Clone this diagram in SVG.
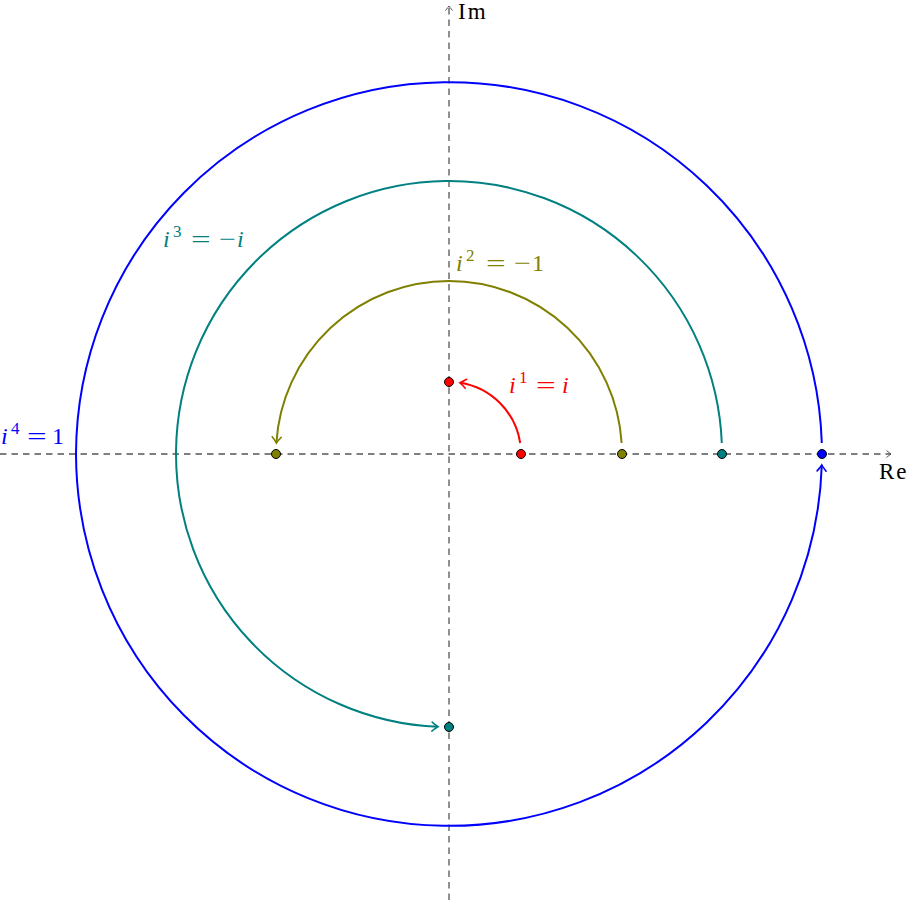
<svg xmlns="http://www.w3.org/2000/svg" width="909" height="900" viewBox="0 0 909 900">
<style>
.axis{stroke:#555;stroke-width:1.3;stroke-dasharray:6.5 5;fill:none}
.arc{fill:none;stroke-width:2}
text{font-family:"Liberation Serif",serif;font-size:24px}
.ax{font-size:23px;letter-spacing:2px}
.it{font-style:italic}
.sup{font-size:17px}
.dot{stroke:#000;stroke-width:1}
</style>
<defs>
<marker id="axarr" markerWidth="10" markerHeight="10" refX="0" refY="0" viewBox="-6 -5 8 10" orient="auto" markerUnits="userSpaceOnUse">
<path d="M-4.5,-3.5 Q-1,-0.6 0,0 Q-1,0.6 -4.5,3.5" fill="none" stroke="#555" stroke-width="1"/>
</marker>
<marker id="mr" viewBox="-8 -6 10 12" refX="0" refY="0" markerWidth="10" markerHeight="12" orient="auto" markerUnits="userSpaceOnUse"><path d="M-6,-4.5 Q-1.5,-0.8 0,0 Q-1.5,0.8 -6,4.5" fill="none" stroke="#ff0000" stroke-width="1.6" stroke-linecap="round"/></marker>
<marker id="mo" viewBox="-8 -6 10 12" refX="0" refY="0" markerWidth="10" markerHeight="12" orient="auto" markerUnits="userSpaceOnUse"><path d="M-6,-4.5 Q-1.5,-0.8 0,0 Q-1.5,0.8 -6,4.5" fill="none" stroke="#808000" stroke-width="1.6" stroke-linecap="round"/></marker>
<marker id="mt" viewBox="-8 -6 10 12" refX="0" refY="0" markerWidth="10" markerHeight="12" orient="auto" markerUnits="userSpaceOnUse"><path d="M-6,-4.5 Q-1.5,-0.8 0,0 Q-1.5,0.8 -6,4.5" fill="none" stroke="#008080" stroke-width="1.6" stroke-linecap="round"/></marker>
<marker id="mb" viewBox="-8 -6 10 12" refX="0" refY="0" markerWidth="10" markerHeight="12" orient="auto" markerUnits="userSpaceOnUse"><path d="M-6,-4.5 Q-1.5,-0.8 0,0 Q-1.5,0.8 -6,4.5" fill="none" stroke="#0000ff" stroke-width="1.6" stroke-linecap="round"/></marker>
</defs>
<rect width="909" height="900" fill="#fff"/>
<g id="axes">
<line class="axis" x1="0" y1="454" x2="891" y2="454" marker-end="url(#axarr)"/>
<line class="axis" x1="449" y1="900" x2="449" y2="6" marker-end="url(#axarr)"/>
<text class="ax" x="879" y="479">Re</text>
<text class="ax" x="458" y="19">Im</text>
</g>
<g id="connectors">
<path class="arc" stroke="#ff0000" d="M520.2,443 A72,72 0 0 0 460,382.8" marker-end="url(#mr)"/>
<path class="arc" stroke="#808000" d="M621.65,443 A173,173 0 0 0 276.35,443" marker-end="url(#mo)"/>
<path class="arc" stroke="#008080" d="M721.8,443 A273,273 0 1 0 438,726.8" marker-end="url(#mt)"/>
<path class="arc" stroke="#0000ff" d="M821.8,443 A373,373 0 0 0 76,454 A373,373 0 0 0 821.8,465" marker-end="url(#mb)"/>
</g>
<g id="points">
<circle class="dot" cx="521" cy="454" r="4.5" fill="#ff0000"/>
<circle class="dot" cx="449" cy="382" r="4.5" fill="#ff0000"/>
<circle class="dot" cx="622" cy="454" r="4.5" fill="#808000"/>
<circle class="dot" cx="276" cy="454" r="4.5" fill="#808000"/>
<circle class="dot" cx="722" cy="454" r="4.5" fill="#008080"/>
<circle class="dot" cx="449" cy="727" r="4.5" fill="#008080"/>
<circle class="dot" cx="822" cy="454" r="4.5" fill="#0000ff"/>
</g>
<g id="label-i1" fill="#ff0000">
<text class="it" x="509" y="393">i</text><text class="sup" x="519" y="383">1</text>
<text transform="translate(536,393) scale(1.45,1)">=</text>
<text class="it" x="562" y="393">i</text>
</g>
<g id="label-i2" fill="#808000">
<text class="it" x="456" y="271">i</text><text class="sup" x="466" y="261">2</text>
<text transform="translate(486,271) scale(1.45,1)">=</text>
<text transform="translate(514,271) scale(1.25,1)">−</text>
<text x="532" y="271">1</text>
</g>
<g id="label-i3" fill="#008080">
<text class="it" x="163" y="247">i</text><text class="sup" x="173" y="237">3</text>
<text transform="translate(191,247) scale(1.45,1)">=</text>
<text transform="translate(219,247) scale(1.25,1)">−</text>
<text class="it" x="237" y="247">i</text>
</g>
<g id="label-i4" fill="#0000ff">
<text class="it" x="1" y="444">i</text><text class="sup" x="11" y="434">4</text>
<text transform="translate(27,444) scale(1.45,1)">=</text>
<text x="52" y="444">1</text>
</g>
</svg>
